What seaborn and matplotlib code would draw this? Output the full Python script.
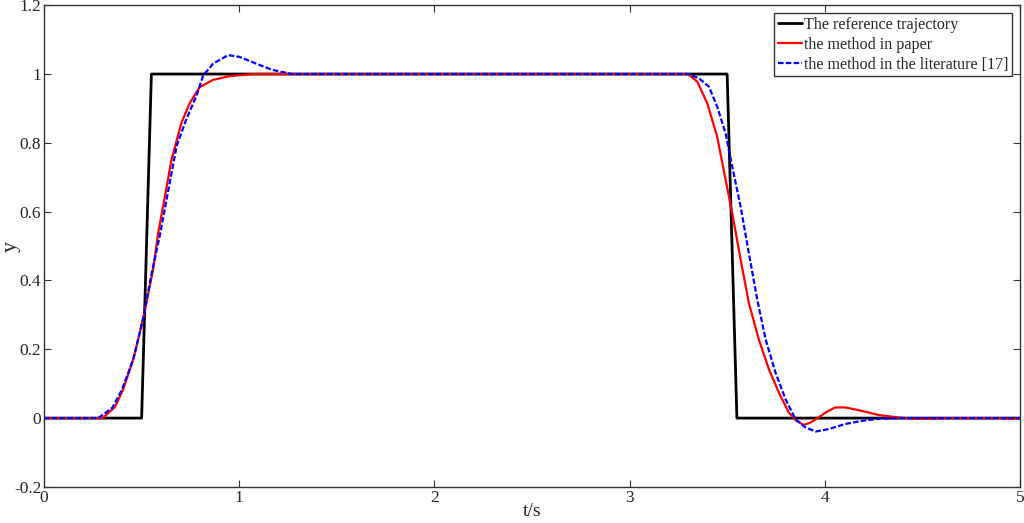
import numpy as np
import pandas as pd
import seaborn as sns
import matplotlib.pyplot as plt

# reference trajectory (square pulse)
t_ref = [0, 0.5, 0.55, 3.5, 3.55, 5]
y_ref = [0, 0, 1, 1, 0, 0]

# the method in paper
t_paper = [0, 0.28, 0.30, 0.363, 0.406, 0.457, 0.491, 0.525, 0.559, 0.585, 0.619, 0.653,
           0.704, 0.747, 0.798, 0.866, 0.951, 1.08, 1.5, 2.5, 3.25, 3.30, 3.347, 3.398,
           3.449, 3.492, 3.526, 3.569, 3.611, 3.662, 3.714, 3.765, 3.816, 3.855, 3.893,
           3.93, 3.969, 4.01, 4.054, 4.106, 4.19, 4.276, 4.36, 4.45, 4.53, 4.65, 4.9,
           4.95, 5.0]
y_paper = [0, 0, 0.0, 0.032, 0.084, 0.171, 0.249, 0.336, 0.432, 0.539, 0.643, 0.751,
           0.858, 0.916, 0.962, 0.983, 0.994, 1.0, 1.0, 1.0, 1.0, 1.0, 0.978, 0.915,
           0.818, 0.693, 0.596, 0.461, 0.335, 0.229, 0.142, 0.074, 0.016, -0.008, -0.020,
           -0.012, 0.002, 0.018, 0.031, 0.031, 0.021, 0.009, 0.003, -0.002, -0.002, 0.0,
           0.0, -0.003, 0.0]

# the method in the literature [17]
t_lit = [0, 0.26, 0.278, 0.35, 0.397, 0.457, 0.508, 0.551, 0.593, 0.636, 0.679, 0.730,
         0.781, 0.815, 0.866, 0.943, 1.0, 1.088, 1.17, 1.27, 1.5, 2.5, 3.30, 3.355,
         3.407, 3.449, 3.492, 3.526, 3.569, 3.611, 3.654, 3.697, 3.748, 3.799, 3.850,
         3.901, 3.952, 4.02, 4.106, 4.19, 4.276, 4.4, 5.0]
y_lit = [0, 0, 0.0, 0.03, 0.08, 0.17, 0.29, 0.42, 0.53, 0.66, 0.79, 0.87, 0.937, 0.995,
         1.03, 1.055, 1.05, 1.03, 1.012, 1.0, 1.0, 1.0, 1.0, 0.988, 0.963, 0.905, 0.828,
         0.731, 0.615, 0.480, 0.345, 0.229, 0.132, 0.055, -0.003, -0.027, -0.039, -0.032,
         -0.017, -0.008, -0.002, 0.0, 0.0]

sns.set_style('ticks')
plt.rcParams['font.family'] = ['Liberation Serif', 'DejaVu Serif']

fig = plt.figure(figsize=(10.24, 5.23), dpi=100)
ax = fig.add_axes([0.043, 0.069, 0.953, 0.921])

sns.lineplot(x=t_ref, y=y_ref, ax=ax, color='black', lw=2, sort=False,
             label='The reference trajectory')
sns.lineplot(x=t_paper, y=y_paper, ax=ax, color='red', lw=1.6, sort=False,
             label='the method in paper')
sns.lineplot(x=t_lit, y=y_lit, ax=ax, color='blue', lw=1.6, sort=False,
             label='the method in the literature [17]')
ax.lines[-1].set_dashes([2.5, 1])

ax.set_xlim(0, 5)
ax.set_ylim(-0.2, 1.2)
ax.set_xticks([0, 1, 2, 3, 4, 5])
ax.set_xticklabels(['0', '1', '2', '3', '4', '5'])
ax.set_yticks([-0.2, 0, 0.2, 0.4, 0.6, 0.8, 1, 1.2])
ax.set_yticklabels(['-0.2', '0', '0.2', '0.4', '0.6', '0.8', '1', '1.2'])
ax.tick_params(direction='in', top=True, right=True, length=5, labelsize=12.5,
               color='#333333', pad=2)
for s in ax.spines.values():
    s.set_color('#333333')
    s.set_linewidth(1)
ax.set_xlabel('t/s', fontsize=14)
ax.xaxis.set_label_coords(0.5, -0.033)
ax.set_ylabel('y', fontsize=16)
ax.yaxis.set_label_coords(-0.024, 0.5)

leg = ax.legend(loc='upper right', fontsize=11.6, frameon=True, fancybox=False,
                framealpha=1, edgecolor='#333333', borderpad=0.2, labelspacing=0.25,
                handlelength=1.5, handletextpad=0.15, borderaxespad=0.5)
leg.get_frame().set_linewidth(1)

fig.savefig('out.png', dpi=100)
